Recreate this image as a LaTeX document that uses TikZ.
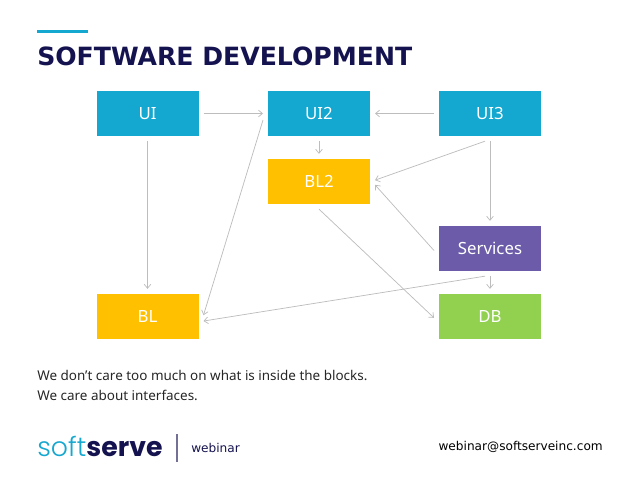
\documentclass[tikz,border=0pt]{standalone}
\usepackage{fontspec}
\setmainfont{Noto Sans}
\newfontfamily\titlefont{DejaVu Sans}
\newfontfamily\logofont{Poppins}
\newfontfamily\logolight{Poppins Light}
\usetikzlibrary{arrows,arrows.meta,positioning,calc}
\definecolor{swblue}{HTML}{14A7CF}
\definecolor{swyellow}{HTML}{FFC000}
\definecolor{swpurple}{HTML}{6B5BA8}
\definecolor{swgreen}{HTML}{92D050}
\definecolor{swnavy}{HTML}{15134F}
\definecolor{swline}{HTML}{BDBDBD}
\tikzset{
  block/.style={minimum width=76.5pt,minimum height=34pt,inner sep=0pt,outer sep=3.75pt,text=white,font=\fontsize{12.6}{15}\selectfont},
  conn/.style={-{Straight Barb[length=3pt,width=5pt]},swline,line width=0.55pt},
  bodytext/.style={anchor=west,inner sep=0pt,text=black!85,font=\fontsize{10.1}{12}\selectfont}
}
\begin{document}
\begin{tikzpicture}[x=0.75pt,y=-0.75pt]
        \useasboundingbox (0,0) rectangle (638,478);

        % Title
        \fill[swblue] (37,30) rectangle (88,33.5);
        \node[anchor=west,inner sep=0pt,text=swnavy,font=\titlefont\bfseries\fontsize{18.85}{22}\selectfont] (title) at (37,56) {SOFTWARE DEVELOPMENT};

        % Blocks
        \node[block,fill=swblue] (ui) at (147.5,113.5) {UI};
        \node[block,fill=swblue] (ui2) at (319,113.5) {UI2};
        \node[block,fill=swblue] (ui3) at (490,113.5) {UI3};
        \node[block,fill=swyellow] (bl2) at (319,181.5) {BL2};
        \node[block,fill=swpurple] (services) at (490,248.5) {Services};
        \node[block,fill=swyellow] (bl) at (147.5,316.5) {BL};
        \node[block,fill=swgreen] (db) at (490,316.5) {DB};

        % Arcs
        \draw[conn] (ui.east) -- (ui2.west);
        \draw[conn] (ui3.west) -- (ui2.east);
        \draw[conn] (ui2.south) -- (bl2.north);
        \draw[conn] (ui.south) -- (bl.north);
        \draw[conn] (ui3.south) -- (services.north);
        \draw[conn] (services.south) -- (db.north);
        \draw[conn] ([xshift=-3.75pt]ui3.south) -- ([yshift=1pt]bl2.east);
        \draw[conn] ([yshift=-1.5pt]services.west) -- ([yshift=-2.5pt]bl2.east);
        \draw[conn] (bl2.south) -- ([yshift=-1pt]db.west);
        \draw[conn] ([xshift=-3.75pt]services.south) -- ([yshift=-3.4pt]bl.east);
        \draw[conn] ([yshift=-4.9pt]ui2.west) -- ([yshift=1pt]bl.east);

        % Bottom text
        \node[bodytext] (line1) at (37,375) {We don’t care too much on what is inside the blocks.};
        \node[bodytext] (line2) at (37,395) {We care about interfaces.};

        % Footer
        \node[anchor=west,inner sep=0pt,font=\logofont\fontsize{20.1}{22}\selectfont] (logo) at (37,446) {\textcolor{swblue}{\logolight soft}\textcolor{swnavy}{\bfseries serve}};
        \draw[swnavy!60,line width=0.9pt] (177,434) -- (177,462);
        \node[anchor=west,inner sep=0pt,text=swnavy,font=\titlefont\fontsize{9.1}{11}\selectfont] (webinar) at (191,448) {webinar};
        \node[anchor=east,inner sep=0pt,text=black,font=\titlefont\fontsize{9.1}{11}\selectfont] (mail) at (603,447) {webinar@softserveinc.com};
\end{tikzpicture}
\end{document}
